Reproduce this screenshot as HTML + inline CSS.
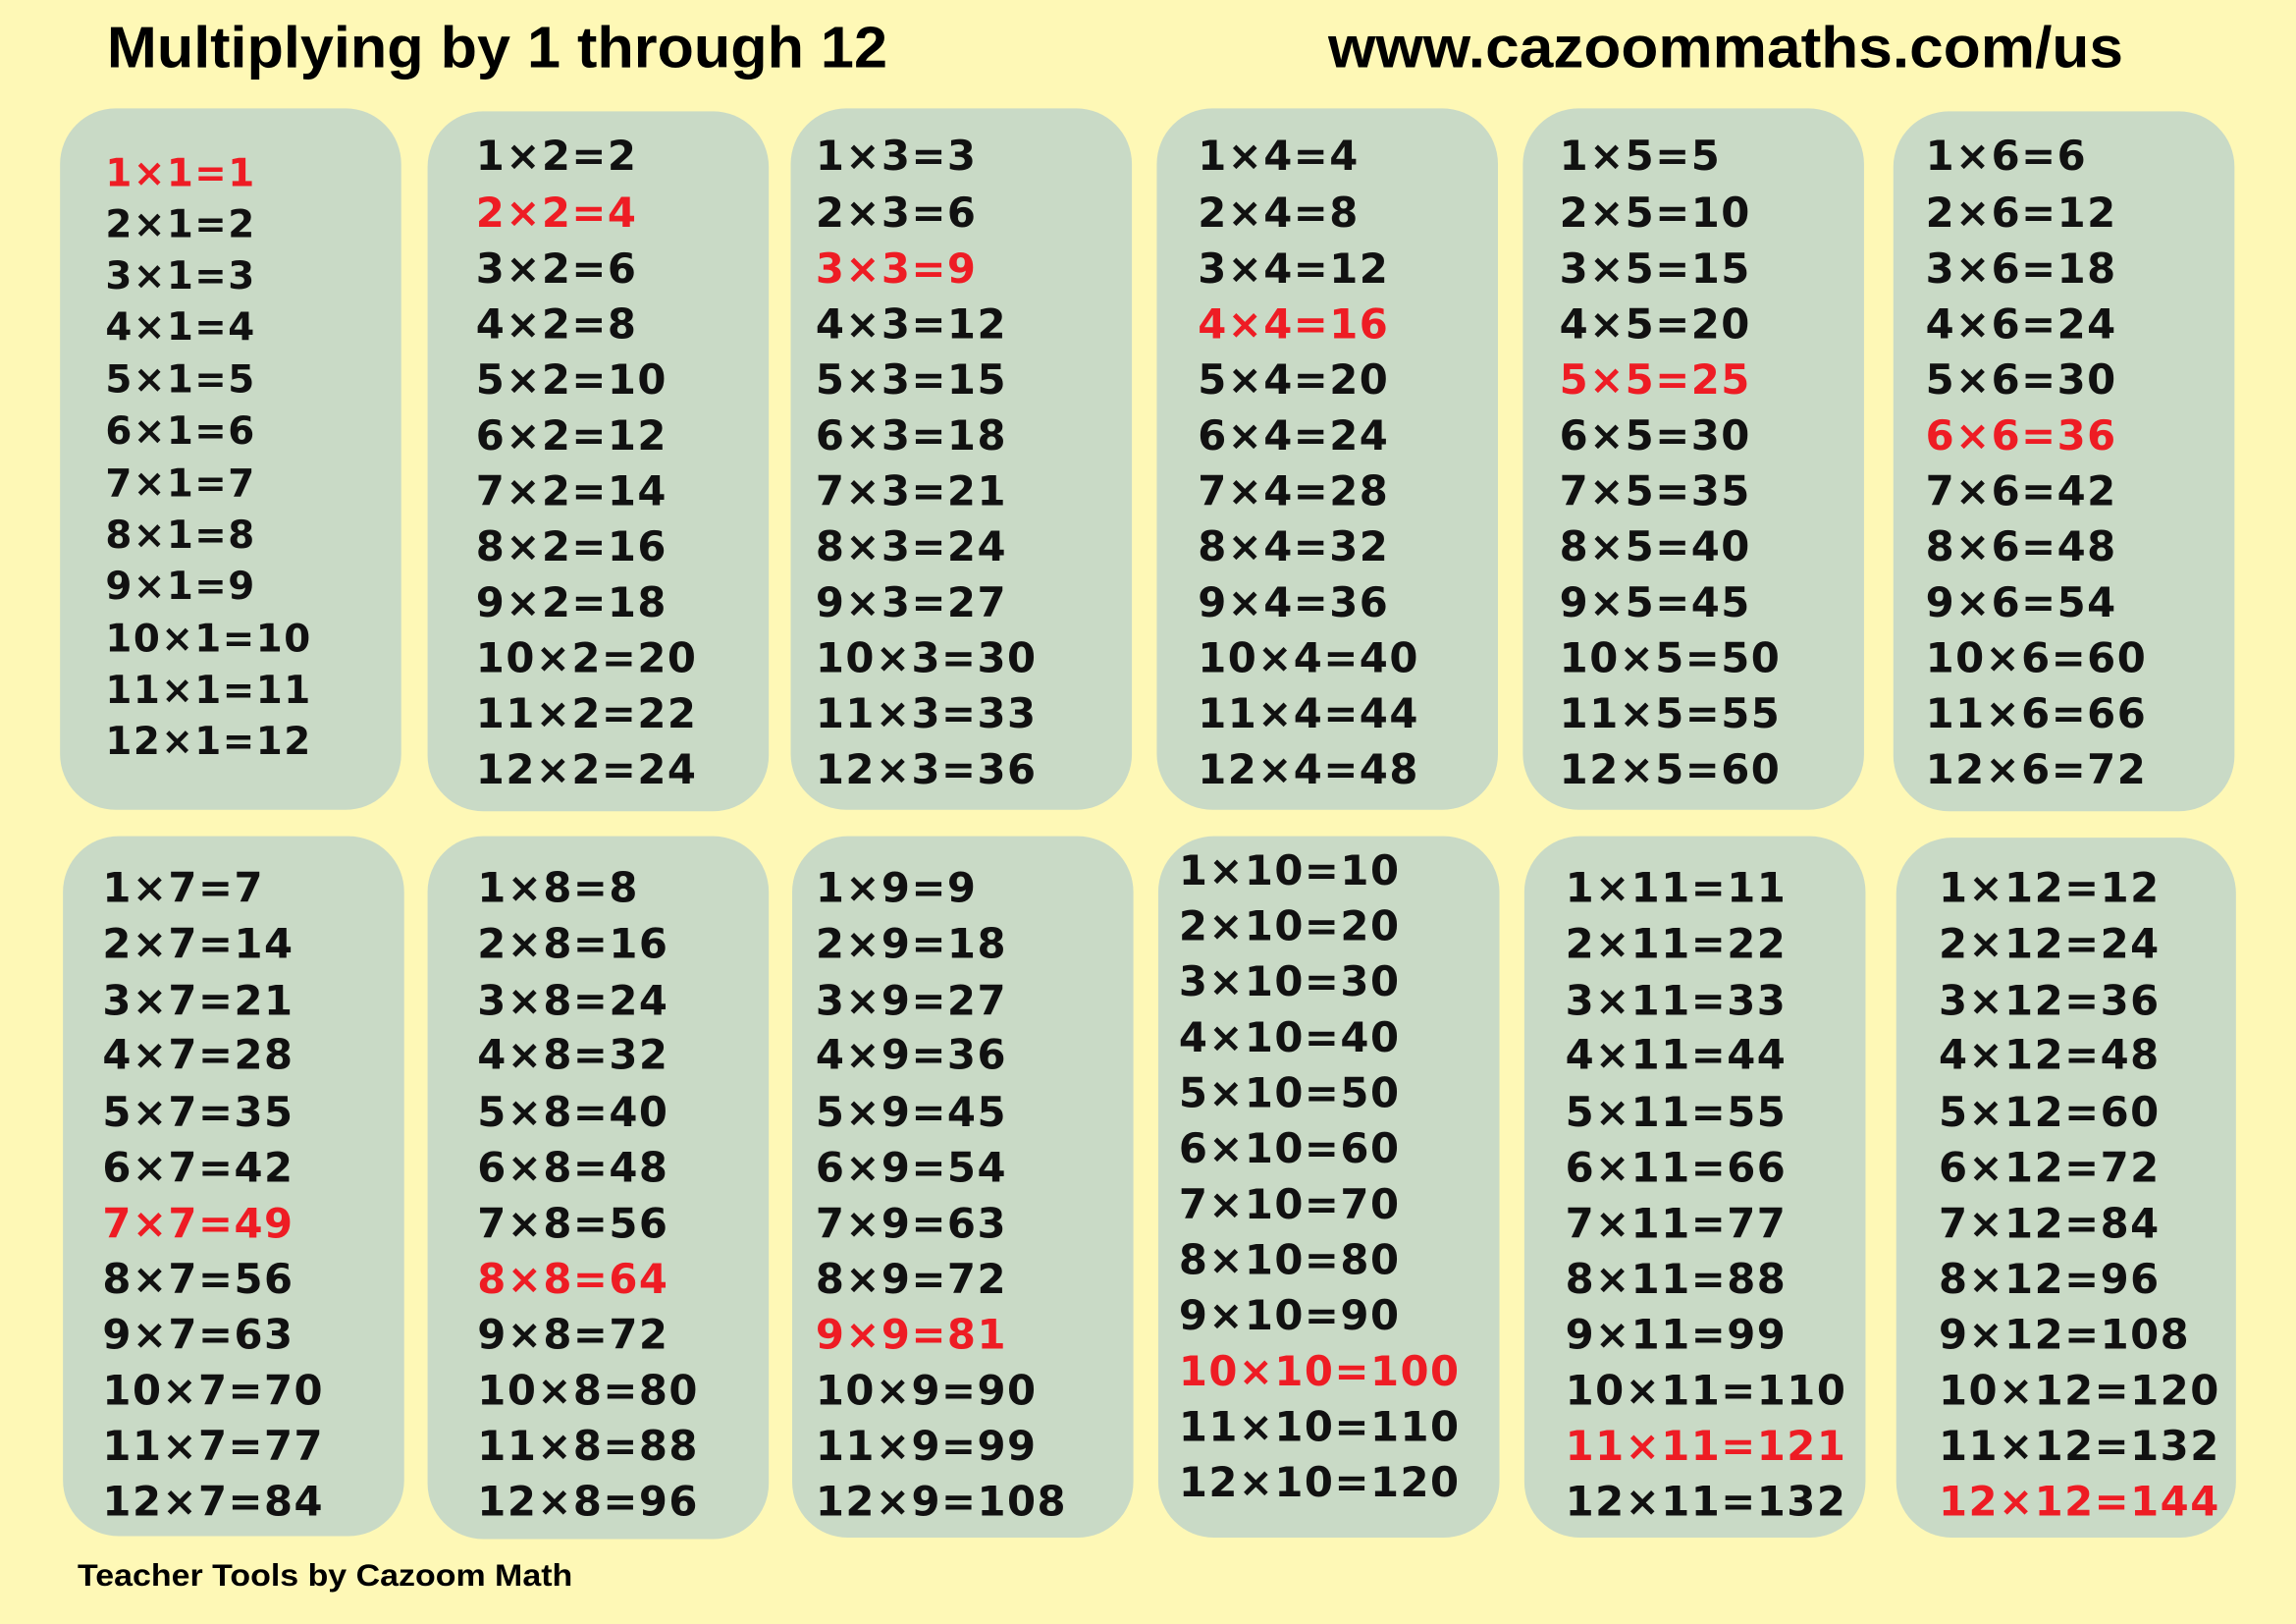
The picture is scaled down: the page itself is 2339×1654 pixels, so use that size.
<!DOCTYPE html>
<html><head><meta charset="utf-8"><style>
html,body{margin:0;padding:0;background:#fef8b6;}
svg{display:block}
.t{font-family:"DejaVu Sans","Liberation Sans",sans-serif;font-weight:bold;font-size:28px;letter-spacing:1px;fill:#111}
.s{font-size:26px}
.o{font-weight:normal}
.r{fill:#ee1c24}
</style></head><body>
<svg width="2339" height="1654" viewBox="0 0 1568 1109" preserveAspectRatio="none" xmlns="http://www.w3.org/2000/svg">
<rect width="1568" height="1109" fill="#fef8b6"/>
<text x="73" y="46" font-family="Liberation Sans,sans-serif" font-weight="bold" font-size="40" textLength="533" lengthAdjust="spacingAndGlyphs" fill="#000">Multiplying by 1 through 12</text>
<text x="907" y="46" font-family="Liberation Sans,sans-serif" font-weight="bold" font-size="40" textLength="543" lengthAdjust="spacingAndGlyphs" fill="#000">www.cazoommaths.com/us</text>
<text x="53" y="1083" font-family="Liberation Sans,sans-serif" font-weight="bold" font-size="21" textLength="338" lengthAdjust="spacingAndGlyphs" fill="#000">Teacher Tools by Cazoom Math</text>
<g fill="#c9dac6">
<rect x="41" y="74" width="233" height="479" rx="38"/>
<rect x="292" y="76" width="233" height="478" rx="38"/>
<rect x="540" y="74" width="233" height="479" rx="38"/>
<rect x="790" y="74" width="233" height="479" rx="38"/>
<rect x="1040" y="74" width="233" height="479" rx="38"/>
<rect x="1293" y="76" width="233" height="478" rx="38"/>
<rect x="43" y="571" width="233" height="478" rx="38"/>
<rect x="292" y="571" width="233" height="480" rx="38"/>
<rect x="541" y="571" width="233" height="479" rx="38"/>
<rect x="791" y="571" width="233" height="479" rx="38"/>
<rect x="1041" y="571" width="233" height="479" rx="38"/>
<rect x="1295" y="572" width="232" height="478" rx="38"/>
</g>
<g class="t s">
<text x="72" y="127" class="r">1×1=1</text>
<text x="72" y="162">2×1=2</text>
<text x="72" y="197">3×1=3</text>
<text x="72" y="232">4×1=4</text>
<text x="72" y="268">5×1=5</text>
<text x="72" y="303">6×1=6</text>
<text x="72" y="339">7×1=7</text>
<text x="72" y="374">8×1=8</text>
<text x="72" y="409">9×1=9</text>
<text x="72" y="445">10×1=10</text>
<text x="72" y="480">11×1=11</text>
<text x="72" y="515">12×1=12</text>
</g>
<g class="t">
<text x="325" y="116">1×2=2</text>
<text x="325" y="155" class="r">2×2=4</text>
<text x="325" y="193">3×2=6</text>
<text x="325" y="231">4×2=8</text>
<text x="325" y="269">5×2=10</text>
<text x="325" y="307">6×2=12</text>
<text x="325" y="345">7×2=14</text>
<text x="325" y="383">8×2=16</text>
<text x="325" y="421">9×2=18</text>
<text x="325" y="459">10×2=20</text>
<text x="325" y="497">11×2=22</text>
<text x="325" y="535">12×2=24</text>

<text x="557" y="116">1×3=3</text>
<text x="557" y="155">2×3=6</text>
<text x="557" y="193" class="r">3×3=9</text>
<text x="557" y="231">4×3=12</text>
<text x="557" y="269">5×3=15</text>
<text x="557" y="307">6×3=18</text>
<text x="557" y="345">7×3=21</text>
<text x="557" y="383">8×3=24</text>
<text x="557" y="421">9×3=27</text>
<text x="557" y="459">10×3=30</text>
<text x="557" y="497">11×3=33</text>
<text x="557" y="535">12×3=36</text>

<text x="818" y="116">1×4=4</text>
<text x="818" y="155">2×4=8</text>
<text x="818" y="193">3×4=12</text>
<text x="818" y="231" class="r">4×4=16</text>
<text x="818" y="269">5×4=20</text>
<text x="818" y="307">6×4=24</text>
<text x="818" y="345">7×4=28</text>
<text x="818" y="383">8×4=32</text>
<text x="818" y="421">9×4=36</text>
<text x="818" y="459">10×4=40</text>
<text x="818" y="497">11×4=44</text>
<text x="818" y="535">12×4=48</text>

<text x="1065" y="116">1×5=5</text>
<text x="1065" y="155">2×5=10</text>
<text x="1065" y="193">3×5=15</text>
<text x="1065" y="231">4×5=20</text>
<text x="1065" y="269" class="r">5×5=25</text>
<text x="1065" y="307">6×5=30</text>
<text x="1065" y="345">7×5=35</text>
<text x="1065" y="383">8×5=40</text>
<text x="1065" y="421">9×5=45</text>
<text x="1065" y="459">10×5=50</text>
<text x="1065" y="497">11×5=55</text>
<text x="1065" y="535">12×5=60</text>

<text x="1315" y="116">1×6=6</text>
<text x="1315" y="155">2×6=12</text>
<text x="1315" y="193">3×6=18</text>
<text x="1315" y="231">4×6=24</text>
<text x="1315" y="269">5×6=30</text>
<text x="1315" y="307" class="r">6×6=36</text>
<text x="1315" y="345">7×6=42</text>
<text x="1315" y="383">8×6=48</text>
<text x="1315" y="421">9×6=54</text>
<text x="1315" y="459">10×6=60</text>
<text x="1315" y="497">11×6=66</text>
<text x="1315" y="535">12×6=72</text>

<text x="70" y="616">1×7=7</text>
<text x="70" y="654">2×7=14</text>
<text x="70" y="693">3×7=21</text>
<text x="70" y="730">4×7=28</text>
<text x="70" y="769">5×7=35</text>
<text x="70" y="807">6×7=42</text>
<text x="70" y="845" class="r">7×7=49</text>
<text x="70" y="883">8×7=56</text>
<text x="70" y="921">9×7=63</text>
<text x="70" y="959">10×7=70</text>
<text x="70" y="997">11×7=77</text>
<text x="70" y="1035">12×7=84</text>

<text x="326" y="616">1×8=8</text>
<text x="326" y="654">2×8=16</text>
<text x="326" y="693">3×8=24</text>
<text x="326" y="730">4×8=32</text>
<text x="326" y="769">5×8=40</text>
<text x="326" y="807">6×8=48</text>
<text x="326" y="845">7×8=56</text>
<text x="326" y="883" class="r">8×8=64</text>
<text x="326" y="921">9×8=72</text>
<text x="326" y="959">10×8=80</text>
<text x="326" y="997">11×8=88</text>
<text x="326" y="1035">12×8=96</text>

<text x="557" y="616">1×9=9</text>
<text x="557" y="654">2×9=18</text>
<text x="557" y="693">3×9=27</text>
<text x="557" y="730">4×9=36</text>
<text x="557" y="769">5×9=45</text>
<text x="557" y="807">6×9=54</text>
<text x="557" y="845">7×9=63</text>
<text x="557" y="883">8×9=72</text>
<text x="557" y="921" class="r">9×9=81</text>
<text x="557" y="959">10×9=90</text>
<text x="557" y="997">11×9=99</text>
<text x="557" y="1035">12×9=108</text>

<text x="805" y="604">1×10=10</text>
<text x="805" y="642">2×10=20</text>
<text x="805" y="680">3×10=30</text>
<text x="805" y="718">4×10=40</text>
<text x="805" y="756">5×10=50</text>
<text x="805" y="794">6×10=60</text>
<text x="805" y="832">7×10=70</text>
<text x="805" y="870">8×10=80</text>
<text x="805" y="908">9×10=90</text>
<text x="805" y="946" class="r">10×10=100</text>
<text x="805" y="984">11×10=110</text>
<text x="805" y="1022">12×10=120</text>

<text x="1069" y="616">1×11=11</text>
<text x="1069" y="654">2×11=22</text>
<text x="1069" y="693">3×11=33</text>
<text x="1069" y="730">4×11=44</text>
<text x="1069" y="769">5×11=55</text>
<text x="1069" y="807">6×11=66</text>
<text x="1069" y="845">7×11=77</text>
<text x="1069" y="883">8×11=88</text>
<text x="1069" y="921">9×11=99</text>
<text x="1069" y="959">10×11=110</text>
<text x="1069" y="997" class="r">11×11=121</text>
<text x="1069" y="1035">12×11=132</text>

<text x="1324" y="616">1×12=12</text>
<text x="1324" y="654">2×12=24</text>
<text x="1324" y="693">3×12=36</text>
<text x="1324" y="730">4×12=48</text>
<text x="1324" y="769">5×12=60</text>
<text x="1324" y="807">6×12=72</text>
<text x="1324" y="845">7×12=84</text>
<text x="1324" y="883">8×12=96</text>
<text x="1324" y="921">9×12=108</text>
<text x="1324" y="959">10×12=120</text>
<text x="1324" y="997">11×12=132</text>
<text x="1324" y="1035" class="r">12×12=144</text>
</g>
</svg>
</body></html>
